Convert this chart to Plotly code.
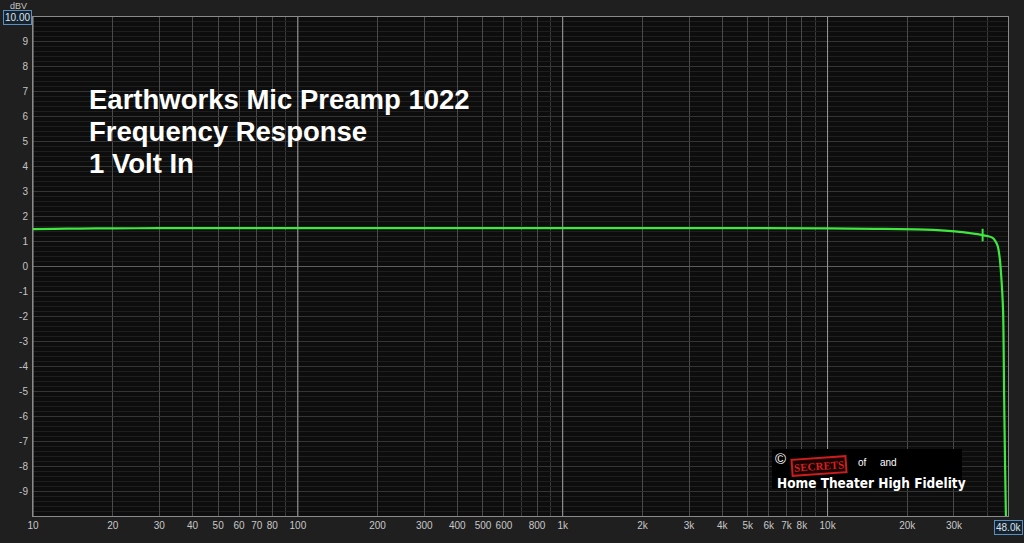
import plotly.graph_objects as go
import math

# ---- data ----
freq_hz = [10, 12, 15, 20, 30, 50, 100, 300, 1000, 3000, 10000, 15000, 23500, 30200,
           35000, 38500, 40500, 42000, 43000, 43900, 44600, 45200, 46000, 46400, 46800, 47300]
level_dbv = [1.50, 1.51, 1.52, 1.53, 1.535, 1.54, 1.54, 1.54, 1.54, 1.54, 1.53, 1.51, 1.48, 1.41,
             1.33, 1.26, 1.21, 1.15, 1.02, 0.82, 0.40, -0.30, -1.8, -5.1, -8.0, -11.0]
marker_freq = [38500]
marker_level = [1.26]

x_tick_vals = [10, 20, 30, 40, 50, 60, 70, 80, 100, 200, 300, 400, 500, 600, 800, 1000,
               2000, 3000, 4000, 5000, 6000, 7000, 8000, 10000, 20000, 30000]
x_tick_text = ["10", "20", "30", "40", "50", "60", "70", "80", "100", "200", "300", "400",
               "500", "600", "800", "1k", "2k", "3k", "4k", "5k", "6k", "7k", "8k", "10k",
               "20k", "30k"]
x_minor_vals = [90, 700, 900, 9000, 40000]
decades = [10, 100, 1000, 10000]
y_tick_vals = [-9, -8, -7, -6, -5, -4, -3, -2, -1, 0, 1, 2, 3, 4, 5, 6, 7, 8, 9]
y_tick_text = [str(v) for v in y_tick_vals]
x_max = 48000
y_min, y_max = -10, 10

title_lines = ["Earthworks Mic Preamp 1022", "Frequency Response", "1 Volt In"]

fig = go.Figure()

# bright decade grid lines
for d in decades:
    fig.add_trace(go.Scatter(x=[d, d], y=[y_min, y_max], mode="lines",
                             line=dict(color="#9a9a9a", width=1),
                             hoverinfo="skip", showlegend=False))

fig.add_trace(go.Scatter(x=freq_hz, y=level_dbv, mode="lines",
                         line=dict(color="#3ee83e", width=2.2, shape="spline", smoothing=0.6),
                         showlegend=False))
fig.add_trace(go.Scatter(x=marker_freq, y=marker_level, mode="markers",
                         marker=dict(symbol="line-ns", size=9,
                                     line=dict(color="#3ee83e", width=2)),
                         showlegend=False))

L, R, T, B = 33, 16, 17, 20
W, H = 1024, 543
pw, ph = W - L - R, H - T - B

def px(x):
    return (x - L) / pw

def py(y):
    return (H - B - y) / ph

fig.update_layout(
    width=W, height=H,
    margin=dict(l=L, r=R, t=T, b=B),
    paper_bgcolor="#1f1f1f",
    plot_bgcolor="#0d0d0d",
    showlegend=False,
    font=dict(family="Liberation Sans, Arial, sans-serif", color="#c4c4c4", size=10),
    xaxis=dict(
        type="log", range=[math.log10(10), math.log10(x_max)],
        tickmode="array", tickvals=x_tick_vals, ticktext=x_tick_text,
        showgrid=True, gridcolor="#4a4a4a", gridwidth=1,
        minor=dict(tickmode="array", tickvals=x_minor_vals, showgrid=True,
                   gridcolor="#3a3a3a", ticks=""),
        ticks="", showline=True, linecolor="#8a8a8a", linewidth=1, mirror=True,
        zeroline=False, tickfont=dict(size=10, color="#c8c8c8"),
    ),
    yaxis=dict(
        range=[y_min, y_max],
        tickmode="array", tickvals=y_tick_vals, ticktext=y_tick_text,
        showgrid=True, gridcolor="#353535", gridwidth=1,
        minor=dict(dtick=0.2, showgrid=True, gridcolor="#1f1f1f", ticks=""),
        ticks="", ticklabelstandoff=2,
        showline=True, linecolor="#8a8a8a", linewidth=1, mirror=True,
        zeroline=True, zerolinecolor="#5e5e5e", zerolinewidth=1,
        tickfont=dict(size=10, color="#c4c4c4"),
    ),
)

# title text
for i, line in enumerate(title_lines):
    fig.add_annotation(text=line, xref="paper", yref="paper",
                       x=px(87), y=py(101 + 32.5 * i), xanchor="left", yanchor="middle",
                       showarrow=False,
                       font=dict(family="Liberation Sans, Arial, sans-serif", size=27.5,
                                 color="#ffffff", weight="bold"))

# axis boxes
fig.add_annotation(text="10.00", xref="paper", yref="y", x=0, y=y_max,
                   xanchor="right", yanchor="middle", showarrow=False, xshift=-1,
                   font=dict(size=10, color="#d8e4f0"), bgcolor="#16222e",
                   bordercolor="#5b8fc0", borderwidth=1, borderpad=1)
fig.add_annotation(text="dBV", xref="paper", yref="paper", x=0, y=1,
                   xanchor="right", yanchor="bottom", showarrow=False, xshift=-4, yshift=4,
                   font=dict(size=9, color="#c4c4c4"))
fig.add_annotation(text="48.0k", xref="x", yref="paper", x=math.log10(x_max), y=0,
                   xanchor="center", yanchor="top", showarrow=False, yshift=-4,
                   font=dict(size=10, color="#d8e4f0"), bgcolor="#16222e",
                   bordercolor="#5b8fc0", borderwidth=1, borderpad=1)

# logo
fig.add_shape(type="rect", xref="paper", yref="paper",
              x0=px(772), x1=px(962), y0=py(495), y1=py(455),
              fillcolor="#000000", line=dict(width=0))
fig.add_annotation(text="©", xref="paper", yref="paper", x=px(780), y=py(465),
                   xanchor="center", yanchor="middle", showarrow=False,
                   font=dict(family="Liberation Sans, Arial", size=15, color="#ffffff"))
fig.add_annotation(text="SECRETS", xref="paper", yref="paper", x=px(819), y=py(472),
                   xanchor="center", yanchor="middle", showarrow=False, textangle=-4,
                   font=dict(family="Liberation Serif, serif", size=11, color="#d42020",
                             weight="bold"),
                   bgcolor="#1a0000", bordercolor="#c81e1e", borderwidth=2, borderpad=1)
fig.add_annotation(text="of", xref="paper", yref="paper", x=px(862), y=py(469),
                   xanchor="center", yanchor="middle", showarrow=False,
                   font=dict(family="Liberation Sans, Arial", size=10, color="#ffffff"))
fig.add_annotation(text="and", xref="paper", yref="paper", x=px(888), y=py(469),
                   xanchor="center", yanchor="middle", showarrow=False,
                   font=dict(family="Liberation Sans, Arial", size=10, color="#ffffff"))
fig.add_annotation(text="Home Theater High Fidelity", xref="paper", yref="paper",
                   x=px(871), y=py(490), xanchor="center", yanchor="middle", showarrow=False,
                   font=dict(family="DejaVu Sans Condensed, Liberation Sans, Arial", size=13.5,
                             color="#ffffff", weight="bold"))

fig.write_html(
    "out.html",
    config={"displayModeBar": False},
    post_script="document.body.style.margin='0';document.body.style.overflow='hidden';"
                "document.documentElement.style.overflow='hidden';"
)
